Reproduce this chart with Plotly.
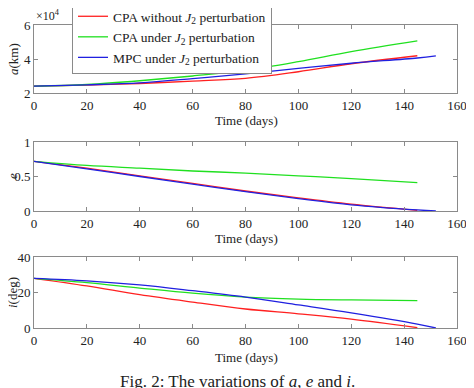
import plotly.graph_objects as go

# page is 474x388; the html body has an 8px margin
PAGE_W, PAGE_H = 474, 388
OFF = 8
W, H = PAGE_W - 2 * OFF, PAGE_H - OFF

# ---- data ----
t_red = [0, 20, 40, 60, 80, 100, 120, 145]
t_green = [0, 20, 40, 60, 80, 100, 120, 145]
t_blue = [0, 20, 40, 60, 80, 100, 120, 145, 152]

a_red = [24000, 24600, 25600, 27000, 28600, 32500, 37200, 41900]
a_green = [24000, 25000, 27200, 30000, 33300, 38400, 44300, 50600]
a_blue = [24000, 24800, 26000, 28500, 31300, 34500, 37500, 40600, 41900]

e_red = [0.72, 0.62, 0.51, 0.40, 0.29, 0.19, 0.10, 0.01]
e_green = [0.72, 0.66, 0.62, 0.58, 0.55, 0.51, 0.47, 0.41]
e_blue = [0.72, 0.61, 0.50, 0.39, 0.28, 0.18, 0.09, 0.015, 0.0]

i_red = [28.0, 23.7, 18.8, 14.6, 10.7, 8.0, 5.0, 0.2]
i_green = [28.0, 25.6, 22.5, 19.6, 17.4, 16.3, 15.8, 15.4]
i_blue = [28.0, 26.6, 24.3, 21.0, 17.4, 13.0, 8.5, 2.2, 0.0]

names = ["CPA without <i>J</i><sub>2</sub> perturbation",
         "CPA under <i>J</i><sub>2</sub> perturbation",
         "MPC under <i>J</i><sub>2</sub> perturbation"]
colors = ["#ff2020", "#20e020", "#2020e0"]

x_ticks = [0, 20, 40, 60, 80, 100, 120, 140, 160]
a_ticks = [20000, 40000, 60000]
a_ticktext = ["2", "4", "6"]
e_ticks = [0, 0.5, 1]
e_ticktext = ["0", "0.5", "1"]
i_ticks = [0, 20, 40]

FONT = "Liberation Serif, Times New Roman, serif"

def px(x):
    return (x - OFF) / W

def py(y):
    return 1 - (y - OFF) / H

fig = go.Figure()

series = [
    (t_red, a_red, e_red, i_red),
    (t_green, a_green, e_green, i_green),
    (t_blue, a_blue, e_blue, i_blue),
]
for k, (t, a, e, inc) in enumerate(series):
    fig.add_trace(go.Scatter(x=t, y=a, mode="lines", name=names[k],
                             line=dict(color=colors[k], width=1.3, shape="spline"),
                             xaxis="x", yaxis="y", showlegend=True))
    fig.add_trace(go.Scatter(x=t, y=e, mode="lines", name=names[k],
                             line=dict(color=colors[k], width=1.3, shape="spline"),
                             xaxis="x2", yaxis="y2", showlegend=False))
    fig.add_trace(go.Scatter(x=t, y=inc, mode="lines", name=names[k],
                             line=dict(color=colors[k], width=1.3, shape="spline"),
                             xaxis="x3", yaxis="y3", showlegend=False))

xdom = [px(34), px(457)]
ydoms = [[py(93), py(25)], [py(211), py(142)], [py(328), py(257)]]

axis_common = dict(showline=True, linecolor="#8a8a8a", linewidth=1, mirror="ticks",
                   ticks="inside", ticklen=4, tickcolor="#8a8a8a", showgrid=False,
                   zeroline=False, automargin=False, ticklabeloverflow="allow",
                   tickfont=dict(family=FONT, size=13, color="#222"))

layout = dict(
    width=W, height=H, margin=dict(l=0, r=0, t=0, b=0, autoexpand=False),
    paper_bgcolor="white", plot_bgcolor="white",
    font=dict(family=FONT, color="#222"),
    showlegend=True,
    legend=dict(x=px(72), y=py(0), xanchor="left", yanchor="top",
                bordercolor="#8a8a8a", borderwidth=1, bgcolor="white",
                font=dict(family=FONT, size=13.5, color="#222"),
                itemwidth=30, tracegroupgap=0),
)
for n, (yd, yt, ytt, yr) in enumerate([
        (ydoms[0], a_ticks, a_ticktext, [20000, 60000]),
        (ydoms[1], e_ticks, e_ticktext, [0, 1]),
        (ydoms[2], i_ticks, [str(v) for v in i_ticks], [0, 40])]):
    sfx = "" if n == 0 else str(n + 1)
    layout["xaxis" + sfx] = dict(axis_common, domain=xdom, range=[0, 160],
                                 tickvals=x_ticks, anchor="y" + sfx)
    layout["yaxis" + sfx] = dict(axis_common, domain=yd, range=yr,
                                 tickvals=yt, ticktext=ytt, anchor="x" + sfx)

fig.update_layout(**layout)

ann = []
def add_text(x, y, text, size=13, angle=0, xanchor="center", yanchor="middle"):
    ann.append(dict(x=px(x), y=py(y), xref="paper", yref="paper", text=text,
                    showarrow=False, textangle=angle, xanchor=xanchor, yanchor=yanchor,
                    font=dict(family=FONT, size=size, color="#222")))

add_text(246, 121, "Time (days)")
add_text(246, 238, "Time (days)")
add_text(246, 357, "Time (days)")
add_text(14, 59, "<i>a</i>(km)", angle=-90)
add_text(12, 176, "<i>e</i>", angle=-90)
add_text(12, 293, "<i>i</i>(deg)", angle=-90)
add_text(34, 16, "×10<sup>4</sup>", size=12, xanchor="left")
add_text(237, 381, "Fig. 2: The variations of <i>a</i>, <i>e</i> and <i>i</i>.", size=17)
fig.update_layout(annotations=ann)

fig.write_html("out.html")
